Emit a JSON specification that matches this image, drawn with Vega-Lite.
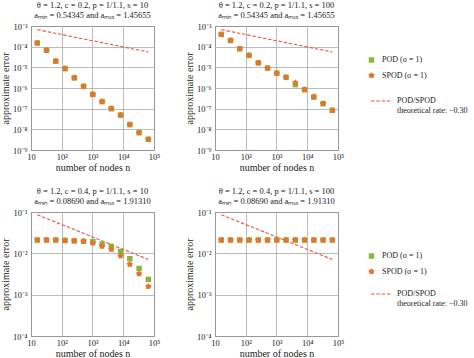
{
  "$schema": "https://vega.github.io/schema/vega-lite/v6.json",
  "padding": {"left": 0, "top": 0, "right": 0, "bottom": 0},
  "config": {
    "font": "Liberation Serif",
    "view": {"stroke": "#555", "strokeWidth": 1},
    "axis": {"grid": true, "gridColor": "#aaa", "gridWidth": 0.8, "domain": false, "ticks": false, "labelFont": "Liberation Serif", "titleFont": "Liberation Serif", "labelFontSize": 8.5, "labelColor": "#222", "titleFontSize": 10, "titleFontWeight": "normal", "titleColor": "#222", "labelPadding": 2, "titlePadding": 2, "labelFlush": false, "labelOverlap": false},
    "axisY": {"labelPadding": 4},
    "title": {"font": "Liberation Serif", "fontSize": 8.5, "fontWeight": "normal", "color": "#222", "lineHeight": 9.5, "offset": 3, "anchor": "middle"},
    "legend": {"labelFontSize": 8, "labelColor": "#222", "labelFont": "Liberation Serif"}
  },
  "datasets": {
    "pts": [
      {"panel": "A", "method": "POD (σ = 1)", "n": 16, "err": 1.5e-4},
      {"panel": "A", "method": "POD (σ = 1)", "n": 32, "err": 6.7e-5},
      {"panel": "A", "method": "POD (σ = 1)", "n": 64, "err": 2.0e-5},
      {"panel": "A", "method": "POD (σ = 1)", "n": 128, "err": 8.7e-6},
      {"panel": "A", "method": "POD (σ = 1)", "n": 256, "err": 3.1e-6},
      {"panel": "A", "method": "POD (σ = 1)", "n": 512, "err": 1.2e-6},
      {"panel": "A", "method": "POD (σ = 1)", "n": 1024, "err": 4.9e-7},
      {"panel": "A", "method": "POD (σ = 1)", "n": 2048, "err": 2.2e-7},
      {"panel": "A", "method": "POD (σ = 1)", "n": 4096, "err": 1.0e-7},
      {"panel": "A", "method": "POD (σ = 1)", "n": 8192, "err": 4.9e-8},
      {"panel": "A", "method": "POD (σ = 1)", "n": 16384, "err": 1.7e-8},
      {"panel": "A", "method": "POD (σ = 1)", "n": 32768, "err": 6.9e-9},
      {"panel": "A", "method": "POD (σ = 1)", "n": 65536, "err": 3.3e-9},
      {"panel": "A", "method": "SPOD (σ = 1)", "n": 16, "err": 1.5e-4},
      {"panel": "A", "method": "SPOD (σ = 1)", "n": 32, "err": 6.7e-5},
      {"panel": "A", "method": "SPOD (σ = 1)", "n": 64, "err": 2.0e-5},
      {"panel": "A", "method": "SPOD (σ = 1)", "n": 128, "err": 8.7e-6},
      {"panel": "A", "method": "SPOD (σ = 1)", "n": 256, "err": 3.1e-6},
      {"panel": "A", "method": "SPOD (σ = 1)", "n": 512, "err": 1.2e-6},
      {"panel": "A", "method": "SPOD (σ = 1)", "n": 1024, "err": 4.9e-7},
      {"panel": "A", "method": "SPOD (σ = 1)", "n": 2048, "err": 2.2e-7},
      {"panel": "A", "method": "SPOD (σ = 1)", "n": 4096, "err": 1.0e-7},
      {"panel": "A", "method": "SPOD (σ = 1)", "n": 8192, "err": 4.9e-8},
      {"panel": "A", "method": "SPOD (σ = 1)", "n": 16384, "err": 1.7e-8},
      {"panel": "A", "method": "SPOD (σ = 1)", "n": 32768, "err": 6.9e-9},
      {"panel": "A", "method": "SPOD (σ = 1)", "n": 65536, "err": 3.3e-9},
      {"panel": "B", "method": "POD (σ = 1)", "n": 16, "err": 3.9e-4},
      {"panel": "B", "method": "POD (σ = 1)", "n": 32, "err": 2.0e-4},
      {"panel": "B", "method": "POD (σ = 1)", "n": 64, "err": 7.9e-5},
      {"panel": "B", "method": "POD (σ = 1)", "n": 128, "err": 3.8e-5},
      {"panel": "B", "method": "POD (σ = 1)", "n": 256, "err": 1.65e-5},
      {"panel": "B", "method": "POD (σ = 1)", "n": 512, "err": 9.2e-6},
      {"panel": "B", "method": "POD (σ = 1)", "n": 1024, "err": 5.2e-6},
      {"panel": "B", "method": "POD (σ = 1)", "n": 2048, "err": 3.3e-6},
      {"panel": "B", "method": "POD (σ = 1)", "n": 4096, "err": 1.45e-6},
      {"panel": "B", "method": "POD (σ = 1)", "n": 8192, "err": 8.3e-7},
      {"panel": "B", "method": "POD (σ = 1)", "n": 16384, "err": 3.6e-7},
      {"panel": "B", "method": "POD (σ = 1)", "n": 32768, "err": 1.75e-7},
      {"panel": "B", "method": "POD (σ = 1)", "n": 65536, "err": 8.3e-8},
      {"panel": "B", "method": "SPOD (σ = 1)", "n": 16, "err": 3.9e-4},
      {"panel": "B", "method": "SPOD (σ = 1)", "n": 32, "err": 2.0e-4},
      {"panel": "B", "method": "SPOD (σ = 1)", "n": 64, "err": 7.9e-5},
      {"panel": "B", "method": "SPOD (σ = 1)", "n": 128, "err": 3.8e-5},
      {"panel": "B", "method": "SPOD (σ = 1)", "n": 256, "err": 1.65e-5},
      {"panel": "B", "method": "SPOD (σ = 1)", "n": 512, "err": 9.2e-6},
      {"panel": "B", "method": "SPOD (σ = 1)", "n": 1024, "err": 5.2e-6},
      {"panel": "B", "method": "SPOD (σ = 1)", "n": 2048, "err": 3.3e-6},
      {"panel": "B", "method": "SPOD (σ = 1)", "n": 4096, "err": 1.8e-6},
      {"panel": "B", "method": "SPOD (σ = 1)", "n": 8192, "err": 8.3e-7},
      {"panel": "B", "method": "SPOD (σ = 1)", "n": 16384, "err": 3.9e-7},
      {"panel": "B", "method": "SPOD (σ = 1)", "n": 32768, "err": 1.75e-7},
      {"panel": "B", "method": "SPOD (σ = 1)", "n": 65536, "err": 8.3e-8},
      {"panel": "C", "method": "POD (σ = 1)", "n": 16, "err": 2.1e-2},
      {"panel": "C", "method": "POD (σ = 1)", "n": 32, "err": 2.1e-2},
      {"panel": "C", "method": "POD (σ = 1)", "n": 64, "err": 2.1e-2},
      {"panel": "C", "method": "POD (σ = 1)", "n": 128, "err": 2.05e-2},
      {"panel": "C", "method": "POD (σ = 1)", "n": 256, "err": 2.0e-2},
      {"panel": "C", "method": "POD (σ = 1)", "n": 512, "err": 1.95e-2},
      {"panel": "C", "method": "POD (σ = 1)", "n": 1024, "err": 1.92e-2},
      {"panel": "C", "method": "POD (σ = 1)", "n": 2048, "err": 1.68e-2},
      {"panel": "C", "method": "POD (σ = 1)", "n": 4096, "err": 1.48e-2},
      {"panel": "C", "method": "POD (σ = 1)", "n": 8192, "err": 1.11e-2},
      {"panel": "C", "method": "POD (σ = 1)", "n": 16384, "err": 7.4e-3},
      {"panel": "C", "method": "POD (σ = 1)", "n": 32768, "err": 4.3e-3},
      {"panel": "C", "method": "POD (σ = 1)", "n": 65536, "err": 2.34e-3},
      {"panel": "C", "method": "SPOD (σ = 1)", "n": 16, "err": 2.1e-2},
      {"panel": "C", "method": "SPOD (σ = 1)", "n": 32, "err": 2.1e-2},
      {"panel": "C", "method": "SPOD (σ = 1)", "n": 64, "err": 2.1e-2},
      {"panel": "C", "method": "SPOD (σ = 1)", "n": 128, "err": 2.05e-2},
      {"panel": "C", "method": "SPOD (σ = 1)", "n": 256, "err": 2.0e-2},
      {"panel": "C", "method": "SPOD (σ = 1)", "n": 512, "err": 1.95e-2},
      {"panel": "C", "method": "SPOD (σ = 1)", "n": 1024, "err": 1.78e-2},
      {"panel": "C", "method": "SPOD (σ = 1)", "n": 2048, "err": 1.48e-2},
      {"panel": "C", "method": "SPOD (σ = 1)", "n": 4096, "err": 1.25e-2},
      {"panel": "C", "method": "SPOD (σ = 1)", "n": 8192, "err": 8.7e-3},
      {"panel": "C", "method": "SPOD (σ = 1)", "n": 16384, "err": 5.4e-3},
      {"panel": "C", "method": "SPOD (σ = 1)", "n": 32768, "err": 3.2e-3},
      {"panel": "C", "method": "SPOD (σ = 1)", "n": 65536, "err": 1.58e-3},
      {"panel": "D", "method": "POD (σ = 1)", "n": 16, "err": 2.1e-2},
      {"panel": "D", "method": "POD (σ = 1)", "n": 32, "err": 2.1e-2},
      {"panel": "D", "method": "POD (σ = 1)", "n": 64, "err": 2.1e-2},
      {"panel": "D", "method": "POD (σ = 1)", "n": 128, "err": 2.1e-2},
      {"panel": "D", "method": "POD (σ = 1)", "n": 256, "err": 2.1e-2},
      {"panel": "D", "method": "POD (σ = 1)", "n": 512, "err": 2.1e-2},
      {"panel": "D", "method": "POD (σ = 1)", "n": 1024, "err": 2.1e-2},
      {"panel": "D", "method": "POD (σ = 1)", "n": 2048, "err": 2.1e-2},
      {"panel": "D", "method": "POD (σ = 1)", "n": 4096, "err": 2.1e-2},
      {"panel": "D", "method": "POD (σ = 1)", "n": 8192, "err": 2.1e-2},
      {"panel": "D", "method": "POD (σ = 1)", "n": 16384, "err": 2.1e-2},
      {"panel": "D", "method": "POD (σ = 1)", "n": 32768, "err": 2.1e-2},
      {"panel": "D", "method": "POD (σ = 1)", "n": 65536, "err": 2.1e-2},
      {"panel": "D", "method": "SPOD (σ = 1)", "n": 16, "err": 2.1e-2},
      {"panel": "D", "method": "SPOD (σ = 1)", "n": 32, "err": 2.1e-2},
      {"panel": "D", "method": "SPOD (σ = 1)", "n": 64, "err": 2.1e-2},
      {"panel": "D", "method": "SPOD (σ = 1)", "n": 128, "err": 2.1e-2},
      {"panel": "D", "method": "SPOD (σ = 1)", "n": 256, "err": 2.1e-2},
      {"panel": "D", "method": "SPOD (σ = 1)", "n": 512, "err": 2.1e-2},
      {"panel": "D", "method": "SPOD (σ = 1)", "n": 1024, "err": 2.1e-2},
      {"panel": "D", "method": "SPOD (σ = 1)", "n": 2048, "err": 2.1e-2},
      {"panel": "D", "method": "SPOD (σ = 1)", "n": 4096, "err": 2.1e-2},
      {"panel": "D", "method": "SPOD (σ = 1)", "n": 8192, "err": 2.1e-2},
      {"panel": "D", "method": "SPOD (σ = 1)", "n": 16384, "err": 2.1e-2},
      {"panel": "D", "method": "SPOD (σ = 1)", "n": 32768, "err": 2.1e-2},
      {"panel": "D", "method": "SPOD (σ = 1)", "n": 65536, "err": 2.1e-2}
    ],
    "rate": [
      {"panel": "A", "label": "rate", "n": 16, "err": 6.7e-4},
      {"panel": "A", "label": "rate", "n": 65536, "err": 5.5e-5},
      {"panel": "B", "label": "rate", "n": 16, "err": 6.7e-4},
      {"panel": "B", "label": "rate", "n": 65536, "err": 5.5e-5},
      {"panel": "C", "label": "rate", "n": 16, "err": 8.6e-2},
      {"panel": "C", "label": "rate", "n": 65536, "err": 7.1e-3},
      {"panel": "D", "label": "rate", "n": 16, "err": 8.6e-2},
      {"panel": "D", "label": "rate", "n": 65536, "err": 7.1e-3}
    ]
  },
  "resolve": {"scale": {"color": "independent", "shape": "independent", "strokeDash": "independent", "size": "independent"}, "legend": {"color": "independent", "shape": "independent", "strokeDash": "independent"}},
  "spacing": 13,
  "vconcat": [
    {
      "spacing": 23,
      "resolve": {"scale": {"color": "independent", "shape": "independent", "strokeDash": "independent", "size": "independent"}, "legend": {"color": "independent", "shape": "independent", "strokeDash": "independent"}},
      "hconcat": [
        {
          "width": 123, "height": 124,
          "title": {"text": ["θ = 1.2, c = 0.2, p = 1/1.1, s = 10", "aₘᵢₙ = 0.54345 and aₘₐₓ = 1.45655"]},
          "layer": [
            {
              "data": {"name": "rate"},
              "transform": [{"filter": "datum.panel == 'A'"}],
              "mark": {"type": "line", "color": "#e8554a", "strokeWidth": 1.1},
              "encoding": {
                "x": {"field": "n", "type": "quantitative", "scale": {"type": "log", "domain": [10, 100000], "nice": false}, "axis": {"values": [10, 100, 1000, 10000, 100000], "title": "number of nodes n", "labelExpr": "datum.value < 11 ? '10' : '10' + substring('⁰¹²³⁴⁵⁶⁷⁸⁹', round(log(datum.value)/LN10), round(log(datum.value)/LN10) + 1)"}},
                "y": {"field": "err", "type": "quantitative", "scale": {"type": "log", "domain": [1e-9, 1e-3], "nice": false}, "axis": {"values": [1e-9, 1e-8, 1e-7, 1e-6, 1e-5, 1e-4, 1e-3], "title": "approximate error", "labelExpr": "'10⁻' + substring('⁰¹²³⁴⁵⁶⁷⁸⁹', -round(log(datum.value)/LN10), 1 - round(log(datum.value)/LN10))"}},
                "strokeDash": {"field": "label", "type": "nominal", "scale": {"range": [[3.5, 1.8]]}, "legend": null}
              }
            },
            {
              "data": {"name": "pts"},
              "transform": [{"filter": "datum.panel == 'A'"}],
              "mark": {"type": "point", "filled": true, "opacity": 1},
              "encoding": {
                "x": {"field": "n", "type": "quantitative"},
                "y": {"field": "err", "type": "quantitative"},
                "color": {"field": "method", "type": "nominal", "scale": {"domain": ["POD (σ = 1)", "SPOD (σ = 1)"], "range": ["#8cb43a", "#e6742e"]}, "legend": null},
                "shape": {"field": "method", "type": "nominal", "scale": {"domain": ["POD (σ = 1)", "SPOD (σ = 1)"], "range": ["square", "M0,-1L0.45,-0.55L0.95,-0.31L0.7,0.22L0.59,0.81L0,0.7L-0.59,0.81L-0.7,0.22L-0.95,-0.31L-0.45,-0.55Z"]}, "legend": null},
                "size": {"field": "method", "type": "nominal", "scale": {"domain": ["POD (σ = 1)", "SPOD (σ = 1)"], "range": [30, 44]}, "legend": null}
              }
            }
          ]
        },
        {
          "width": 123, "height": 124,
          "title": {"text": ["θ = 1.2, c = 0.2, p = 1/1.1, s = 100", "aₘᵢₙ = 0.54345 and aₘₐₓ = 1.45655"]},
          "layer": [
            {
              "data": {"name": "rate"},
              "transform": [{"filter": "datum.panel == 'B'"}],
              "mark": {"type": "line", "color": "#e8554a", "strokeWidth": 1.1},
              "encoding": {
                "x": {"field": "n", "type": "quantitative", "scale": {"type": "log", "domain": [10, 100000], "nice": false}, "axis": {"values": [10, 100, 1000, 10000, 100000], "title": "number of nodes n", "labelExpr": "datum.value < 11 ? '10' : '10' + substring('⁰¹²³⁴⁵⁶⁷⁸⁹', round(log(datum.value)/LN10), round(log(datum.value)/LN10) + 1)"}},
                "y": {"field": "err", "type": "quantitative", "scale": {"type": "log", "domain": [1e-9, 1e-3], "nice": false}, "axis": {"values": [1e-9, 1e-8, 1e-7, 1e-6, 1e-5, 1e-4, 1e-3], "title": "approximate error", "labelExpr": "'10⁻' + substring('⁰¹²³⁴⁵⁶⁷⁸⁹', -round(log(datum.value)/LN10), 1 - round(log(datum.value)/LN10))"}},
                "strokeDash": {"field": "label", "type": "nominal", "scale": {"range": [[3.5, 1.8]]}, "legend": {"orient": "none", "legendX": 155, "legendY": 64, "title": null, "symbolSize": 400, "symbolStrokeWidth": 1.1, "labelOffset": 5, "labelLimit": 200, "labelExpr": "['         POD/SPOD', 'theoretical rate: −0.30']", "encode": {"labels": {"update": {"dy": {"value": 5}}}}}}
              }
            },
            {
              "data": {"name": "pts"},
              "transform": [{"filter": "datum.panel == 'B'"}],
              "mark": {"type": "point", "filled": true, "opacity": 1},
              "encoding": {
                "x": {"field": "n", "type": "quantitative"},
                "y": {"field": "err", "type": "quantitative"},
                "color": {"field": "method", "type": "nominal", "scale": {"domain": ["POD (σ = 1)", "SPOD (σ = 1)"], "range": ["#8cb43a", "#e6742e"]}, "legend": {"orient": "none", "legendX": 152, "legendY": 30, "title": null, "rowPadding": 7, "labelOffset": 6, "symbolSize": 30}},
                "shape": {"field": "method", "type": "nominal", "scale": {"domain": ["POD (σ = 1)", "SPOD (σ = 1)"], "range": ["square", "M0,-1L0.45,-0.55L0.95,-0.31L0.7,0.22L0.59,0.81L0,0.7L-0.59,0.81L-0.7,0.22L-0.95,-0.31L-0.45,-0.55Z"]}, "legend": {"orient": "none", "legendX": 152, "legendY": 30, "title": null, "rowPadding": 7, "labelOffset": 6, "symbolSize": 30}},
                "size": {"field": "method", "type": "nominal", "scale": {"domain": ["POD (σ = 1)", "SPOD (σ = 1)"], "range": [30, 44]}, "legend": null}
              }
            }
          ]
        }
      ]
    },
    {
      "spacing": 23,
      "resolve": {"scale": {"color": "independent", "shape": "independent", "strokeDash": "independent", "size": "independent"}, "legend": {"color": "independent", "shape": "independent", "strokeDash": "independent"}},
      "hconcat": [
        {
          "width": 123, "height": 124,
          "title": {"text": ["θ = 1.2, c = 0.4, p = 1/1.1, s = 10", "aₘᵢₙ = 0.08690 and aₘₐₓ = 1.91310"]},
          "layer": [
            {
              "data": {"name": "rate"},
              "transform": [{"filter": "datum.panel == 'C'"}],
              "mark": {"type": "line", "color": "#e8554a", "strokeWidth": 1.1},
              "encoding": {
                "x": {"field": "n", "type": "quantitative", "scale": {"type": "log", "domain": [10, 100000], "nice": false}, "axis": {"values": [10, 100, 1000, 10000, 100000], "title": "number of nodes n", "labelExpr": "datum.value < 11 ? '10' : '10' + substring('⁰¹²³⁴⁵⁶⁷⁸⁹', round(log(datum.value)/LN10), round(log(datum.value)/LN10) + 1)"}},
                "y": {"field": "err", "type": "quantitative", "scale": {"type": "log", "domain": [1e-4, 1e-1], "nice": false}, "axis": {"values": [1e-4, 1e-3, 1e-2, 1e-1], "title": "approximate error", "labelExpr": "'10⁻' + substring('⁰¹²³⁴⁵⁶⁷⁸⁹', -round(log(datum.value)/LN10), 1 - round(log(datum.value)/LN10))"}},
                "strokeDash": {"field": "label", "type": "nominal", "scale": {"range": [[3.5, 1.8]]}, "legend": null}
              }
            },
            {
              "data": {"name": "pts"},
              "transform": [{"filter": "datum.panel == 'C'"}],
              "mark": {"type": "point", "filled": true, "opacity": 1},
              "encoding": {
                "x": {"field": "n", "type": "quantitative"},
                "y": {"field": "err", "type": "quantitative"},
                "color": {"field": "method", "type": "nominal", "scale": {"domain": ["POD (σ = 1)", "SPOD (σ = 1)"], "range": ["#8cb43a", "#e6742e"]}, "legend": null},
                "shape": {"field": "method", "type": "nominal", "scale": {"domain": ["POD (σ = 1)", "SPOD (σ = 1)"], "range": ["square", "M0,-1L0.45,-0.55L0.95,-0.31L0.7,0.22L0.59,0.81L0,0.7L-0.59,0.81L-0.7,0.22L-0.95,-0.31L-0.45,-0.55Z"]}, "legend": null},
                "size": {"field": "method", "type": "nominal", "scale": {"domain": ["POD (σ = 1)", "SPOD (σ = 1)"], "range": [30, 44]}, "legend": null}
              }
            }
          ]
        },
        {
          "width": 123, "height": 124,
          "title": {"text": ["θ = 1.2, c = 0.4, p = 1/1.1, s = 100", "aₘᵢₙ = 0.08690 and aₘₐₓ = 1.91310"]},
          "layer": [
            {
              "data": {"name": "rate"},
              "transform": [{"filter": "datum.panel == 'D'"}],
              "mark": {"type": "line", "color": "#e8554a", "strokeWidth": 1.1},
              "encoding": {
                "x": {"field": "n", "type": "quantitative", "scale": {"type": "log", "domain": [10, 100000], "nice": false}, "axis": {"values": [10, 100, 1000, 10000, 100000], "title": "number of nodes n", "labelExpr": "datum.value < 11 ? '10' : '10' + substring('⁰¹²³⁴⁵⁶⁷⁸⁹', round(log(datum.value)/LN10), round(log(datum.value)/LN10) + 1)"}},
                "y": {"field": "err", "type": "quantitative", "scale": {"type": "log", "domain": [1e-4, 1e-1], "nice": false}, "axis": {"values": [1e-4, 1e-3, 1e-2, 1e-1], "title": "approximate error", "labelExpr": "'10⁻' + substring('⁰¹²³⁴⁵⁶⁷⁸⁹', -round(log(datum.value)/LN10), 1 - round(log(datum.value)/LN10))"}},
                "strokeDash": {"field": "label", "type": "nominal", "scale": {"range": [[3.5, 1.8]]}, "legend": {"orient": "none", "legendX": 155, "legendY": 71, "title": null, "symbolSize": 400, "symbolStrokeWidth": 1.1, "labelOffset": 5, "labelLimit": 200, "labelExpr": "['         POD/SPOD', 'theoretical rate: −0.30']", "encode": {"labels": {"update": {"dy": {"value": 5}}}}}}
              }
            },
            {
              "data": {"name": "pts"},
              "transform": [{"filter": "datum.panel == 'D'"}],
              "mark": {"type": "point", "filled": true, "opacity": 1},
              "encoding": {
                "x": {"field": "n", "type": "quantitative"},
                "y": {"field": "err", "type": "quantitative"},
                "color": {"field": "method", "type": "nominal", "scale": {"domain": ["POD (σ = 1)", "SPOD (σ = 1)"], "range": ["#8cb43a", "#e6742e"]}, "legend": {"orient": "none", "legendX": 152, "legendY": 40, "title": null, "rowPadding": 7, "labelOffset": 6, "symbolSize": 30}},
                "shape": {"field": "method", "type": "nominal", "scale": {"domain": ["POD (σ = 1)", "SPOD (σ = 1)"], "range": ["square", "M0,-1L0.45,-0.55L0.95,-0.31L0.7,0.22L0.59,0.81L0,0.7L-0.59,0.81L-0.7,0.22L-0.95,-0.31L-0.45,-0.55Z"]}, "legend": {"orient": "none", "legendX": 152, "legendY": 40, "title": null, "rowPadding": 7, "labelOffset": 6, "symbolSize": 30}},
                "size": {"field": "method", "type": "nominal", "scale": {"domain": ["POD (σ = 1)", "SPOD (σ = 1)"], "range": [30, 44]}, "legend": null}
              }
            }
          ]
        }
      ]
    }
  ]
}
